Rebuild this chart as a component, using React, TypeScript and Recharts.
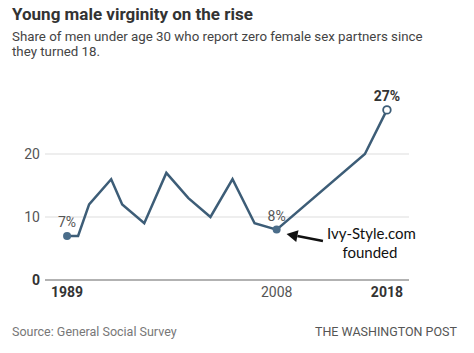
import { LineChart, Line, XAxis, YAxis, CartesianGrid, ReferenceLine, LabelList } from "recharts";

const years = [1989, 1990, 1991, 1993, 1994, 1996, 1998, 2000, 2002, 2004, 2006, 2008, 2016, 2018];
const shares = [7, 7, 12, 16, 12, 9, 17, 13, 10, 16, 9, 8, 20, 27];
const callouts = ["7%", "", "", "", "", "", "", "", "", "", "", "8%", "", "27%"];
const yTicks = [0, 10, 20];
const gridValues = [10, 20];
const xTicks = [1989, 2008, 2018];
const boldYears = [1989, 2018];
const arrowFrom = { x: 2012.2, y: 6.2 };
const arrowTo = { x: 2008.9, y: 7.3 };

const data = years.map((year, i) => ({ year, share: shares[i], label: callouts[i] }));

const LINE = "#3d5d77";
const FONT = "Roboto, 'Liberation Sans', Arial, sans-serif";

function Dot(props: any) {
  const { cx, cy, index } = props;
  if (index === data.length - 1) {
    return <circle key={index} cx={cx} cy={cy} r={3.8} fill="#fff" stroke={LINE} strokeWidth={1.8} />;
  }
  if (data[index].label) {
    return <circle key={index} cx={cx} cy={cy} r={4} fill="#4a6d8a" />;
  }
  return <g key={index} />;
}

function Callout(props: any) {
  const { x, y, value, index } = props;
  if (!value) return null;
  const last = index === data.length - 1;
  return (
    <text x={x} y={y - 9} textAnchor="middle" fontFamily={FONT} fontSize={14}
      fontWeight={last ? 700 : 400} fill={last ? "#333" : "#555"}>
      {value}
    </text>
  );
}

function YTick(props: any) {
  const { x, y, payload } = props;
  const zero = payload.value === 0;
  return (
    <text x={x} y={y} dy={5} textAnchor="end" fontFamily={FONT} fontSize={14}
      fontWeight={zero ? 700 : 400} fill={zero ? "#333" : "#555"}>
      {payload.value}
    </text>
  );
}

function XTick(props: any) {
  const { x, y, payload } = props;
  const bold = boldYears.includes(payload.value);
  return (
    <text x={x} y={y} dy={15} textAnchor="middle" fontFamily={FONT} fontSize={14}
      fontWeight={bold ? 700 : 400} fill={bold ? "#333" : "#555"}>
      {payload.value}
    </text>
  );
}

function Arrow(props: any) {
  const { x1, y1, x2, y2 } = props;
  const ang = Math.atan2(y2 - y1, x2 - x1);
  const len = 11;
  const w = 6;
  const bx = x2 - len * Math.cos(ang);
  const by = y2 - len * Math.sin(ang);
  const px = -Math.sin(ang) * w;
  const py = Math.cos(ang) * w;
  return (
    <g>
      <line x1={x1} y1={y1} x2={bx} y2={by} stroke="#111" strokeWidth={2.6} />
      <polygon points={`${x2},${y2} ${bx + px},${by + py} ${bx - px},${by - py}`} fill="#111" />
      <text x={x1 + 4} y={y1 - 2} fontFamily="Lato, 'Open Sans', sans-serif" fontSize={15} fill="#111">
        Ivy-Style.com
      </text>
      <text x={x1 + 47} y={y1 + 17} textAnchor="middle" fontFamily="Lato, 'Open Sans', sans-serif" fontSize={15} fill="#111">
        founded
      </text>
    </g>
  );
}

export default function App() {
  return (
    <div style={{ position: "absolute", left: 0, top: 0, width: 474, height: 353, background: "#fff", fontFamily: FONT }}>
      <div style={{ position: "absolute", left: 12, top: 4, fontSize: 17, fontWeight: 700, color: "#333", lineHeight: "20px" }}>
        Young male virginity on the rise
      </div>
      <div style={{ position: "absolute", left: 12, top: 29, width: 425, fontSize: 13.3, color: "#444", lineHeight: "15px" }}>
        Share of men under age 30 who report zero female sex partners since they turned 18.
      </div>
      <div style={{ position: "absolute", left: 0, top: 0 }}>
        <LineChart width={474} height={353} data={data} margin={{ top: 91, right: 65, bottom: 0, left: 0 }}>
          <CartesianGrid vertical={false} horizontalValues={gridValues} stroke="#ddd" strokeWidth={1} />
          <XAxis dataKey="year" type="number" domain={[1987, 2020]} ticks={xTicks}
            axisLine={false} tickLine={false} tickSize={0} tick={<XTick />} height={73} />
          <YAxis type="number" domain={[0, 30]} ticks={yTicks} axisLine={false} tickLine={false}
            tickSize={0} tickMargin={5} width={45} tick={<YTick />} />
          <ReferenceLine y={0} stroke="#999" strokeWidth={1.5} />
          <ReferenceLine segment={[arrowFrom, arrowTo]} shape={<Arrow />} ifOverflow="visible" />
          <Line type="linear" dataKey="share" stroke={LINE} strokeWidth={2.5} dot={<Dot />}
            activeDot={false} isAnimationActive={false}>
            <LabelList dataKey="label" content={<Callout />} />
          </Line>
        </LineChart>
      </div>
      <div style={{ position: "absolute", left: 12, top: 324, fontSize: 12.5, color: "#777" }}>
        Source: General Social Survey
      </div>
      <div style={{ position: "absolute", right: 17, top: 324, fontSize: 12.5, color: "#555" }}>
        THE WASHINGTON POST
      </div>
    </div>
  );
}
